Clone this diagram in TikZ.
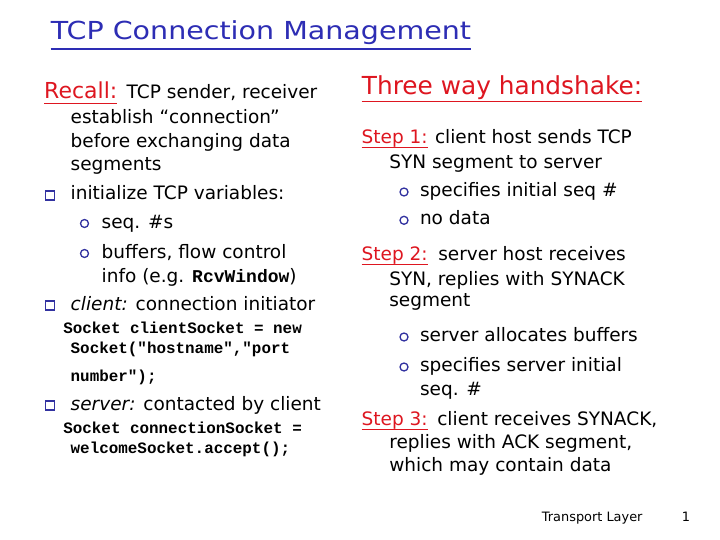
\documentclass[tikz,border=0pt]{standalone}
\usepackage{fontspec}
\setmainfont{DejaVu Sans}
\setmonofont{Liberation Mono}
\newfontfamily\titlefont[FakeStretch=1.15]{DejaVu Sans}
\definecolor{slidered}{RGB}{222,22,32}
\definecolor{titleblue}{RGB}{45,45,180}
\definecolor{bulletblue}{RGB}{50,50,160}
\tikzset{
  txt/.style={anchor=base west, inner sep=0pt, outer sep=0pt, font=\fontsize{18.5}{22}\selectfont},
  codetxt/.style={anchor=base west, inner sep=0pt, outer sep=0pt, font=\fontsize{15.9}{19}\selectfont\ttfamily\bfseries},
  steplbl/.style={txt, text=slidered, font=\fontsize{18.5}{22}\selectfont},
  uline/.style={line width=1.3pt},
  sqbul/.style={rectangle, draw=bulletblue, line width=1.3pt, minimum size=9pt, inner sep=0pt, outer sep=0pt},
  cbul/.style={circle, draw=bulletblue, line width=1.3pt, minimum size=8pt, inner sep=0pt, outer sep=0pt}
}
\begin{document}
\begin{tikzpicture}[x=1pt,y=-1pt]
\useasboundingbox[fill=white] (0,0) rectangle (720,540);

% Title
\node[anchor=base west, inner sep=0pt, text=titleblue, font=\fontsize{24.8}{28}\selectfont\titlefont] (title) at (50.7,40) {TCP Connection Management};
\draw[titleblue, uline] ([yshift=-9pt]title.base west) -- ([yshift=-9pt]title.base east);

% Left column
\node[anchor=base west, inner sep=0pt, text=slidered, font=\fontsize{22}{26}\selectfont] (recall) at (44,98.3) {Recall:};
\draw[slidered, uline] ([yshift=-5pt]recall.base west) -- ([yshift=-5pt]recall.base east);
\node[txt] (l1) at (126.7,98.3) {TCP sender, receiver};
\node[txt] (l2) at (70.7,123.3) {establish “connection”};
\node[txt] (l3) at (70.7,147.7) {before exchanging data};
\node[txt] (l4) at (70.7,171) {segments};
\node[sqbul] (b1) at (50,195.5) {};
\node[txt] (l5) at (70.7,199.3) {initialize TCP variables:};
\node[cbul] (c1) at (84.5,223.5) {};
\node[txt] (l6) at (101.7,228.3) {seq. \#s};
\node[cbul] (c2) at (84.5,253.5) {};
\node[txt] (l7) at (101.7,258.3) {buffers, flow control};
\node[txt] (l8) at (101.7,282) {info (e.g. {\fontsize{18}{22}\selectfont\ttfamily\bfseries RcvWindow})};
\node[sqbul] (b2) at (50,305.5) {};
\node[txt] (l9) at (70.7,310) {\textit{client:} connection initiator};
\node[codetxt] (k1) at (63.3,333.3) {Socket clientSocket = new};
\node[codetxt] (k2) at (70.7,353.3) {Socket("hostname","port};
\node[codetxt] (k3) at (70.7,381) {number");};
\node[sqbul] (b3) at (50,405.5) {};
\node[txt] (l10) at (70.7,410) {\textit{server:} contacted by client};
\node[codetxt] (k4) at (63.3,433.3) {Socket connectionSocket =};
\node[codetxt] (k5) at (70.7,453.3) {welcomeSocket.accept();};

% Right column
\node[anchor=base west, inner sep=0pt, text=slidered, font=\fontsize{24.8}{28}\selectfont] (hs) at (361.7,95) {Three way handshake:};
\draw[slidered, uline] ([yshift=-6.5pt]hs.base west) -- ([yshift=-6.5pt]hs.base east);

\node[steplbl] (s1) at (361.7,143.3) {Step 1:};
\draw[slidered, line width=1pt] ([yshift=-4pt]s1.base west) -- ([yshift=-4pt]s1.base east);
\node[txt] (r1) at (435,143.3) {client host sends TCP};
\node[txt] (r2) at (389.3,168.3) {SYN segment to server};
\node[cbul] (c3) at (404,192) {};
\node[txt] (r3) at (420,196.7) {specifies initial seq \#};
\node[cbul] (c4) at (404,220.3) {};
\node[txt] (r4) at (420,225) {no data};

\node[steplbl] (s2) at (361.7,260) {Step 2:};
\draw[slidered, line width=1pt] ([yshift=-4pt]s2.base west) -- ([yshift=-4pt]s2.base east);
\node[txt] (r5) at (438.3,260) {server host receives};
\node[txt] (r6) at (389.3,285) {SYN, replies with SYNACK};
\node[txt] (r7) at (389.3,306.7) {segment};
\node[cbul] (c5) at (404,337) {};
\node[txt] (r8) at (420,341.7) {server allocates buffers};
\node[cbul] (c6) at (404,367) {};
\node[txt] (r9) at (420,371.7) {specifies server initial};
\node[txt] (r10) at (420,395) {seq. \#};

\node[steplbl] (s3) at (361.7,425) {Step 3:};
\draw[slidered, line width=1pt] ([yshift=-4pt]s3.base west) -- ([yshift=-4pt]s3.base east);
\node[txt] (r11) at (437.3,425) {client receives SYNACK,};
\node[txt] (r12) at (389.3,448.3) {replies with ACK segment,};
\node[txt] (r13) at (389.3,471.7) {which may contain data};

% Footer
\node[anchor=base west, inner sep=0pt, font=\fontsize{12.9}{15}\selectfont] (foot) at (541.7,521.7) {Transport Layer};
\node[anchor=base west, inner sep=0pt, font=\fontsize{12.9}{15}\selectfont] (pg) at (681.7,521.7) {1};
\end{tikzpicture}
\end{document}
